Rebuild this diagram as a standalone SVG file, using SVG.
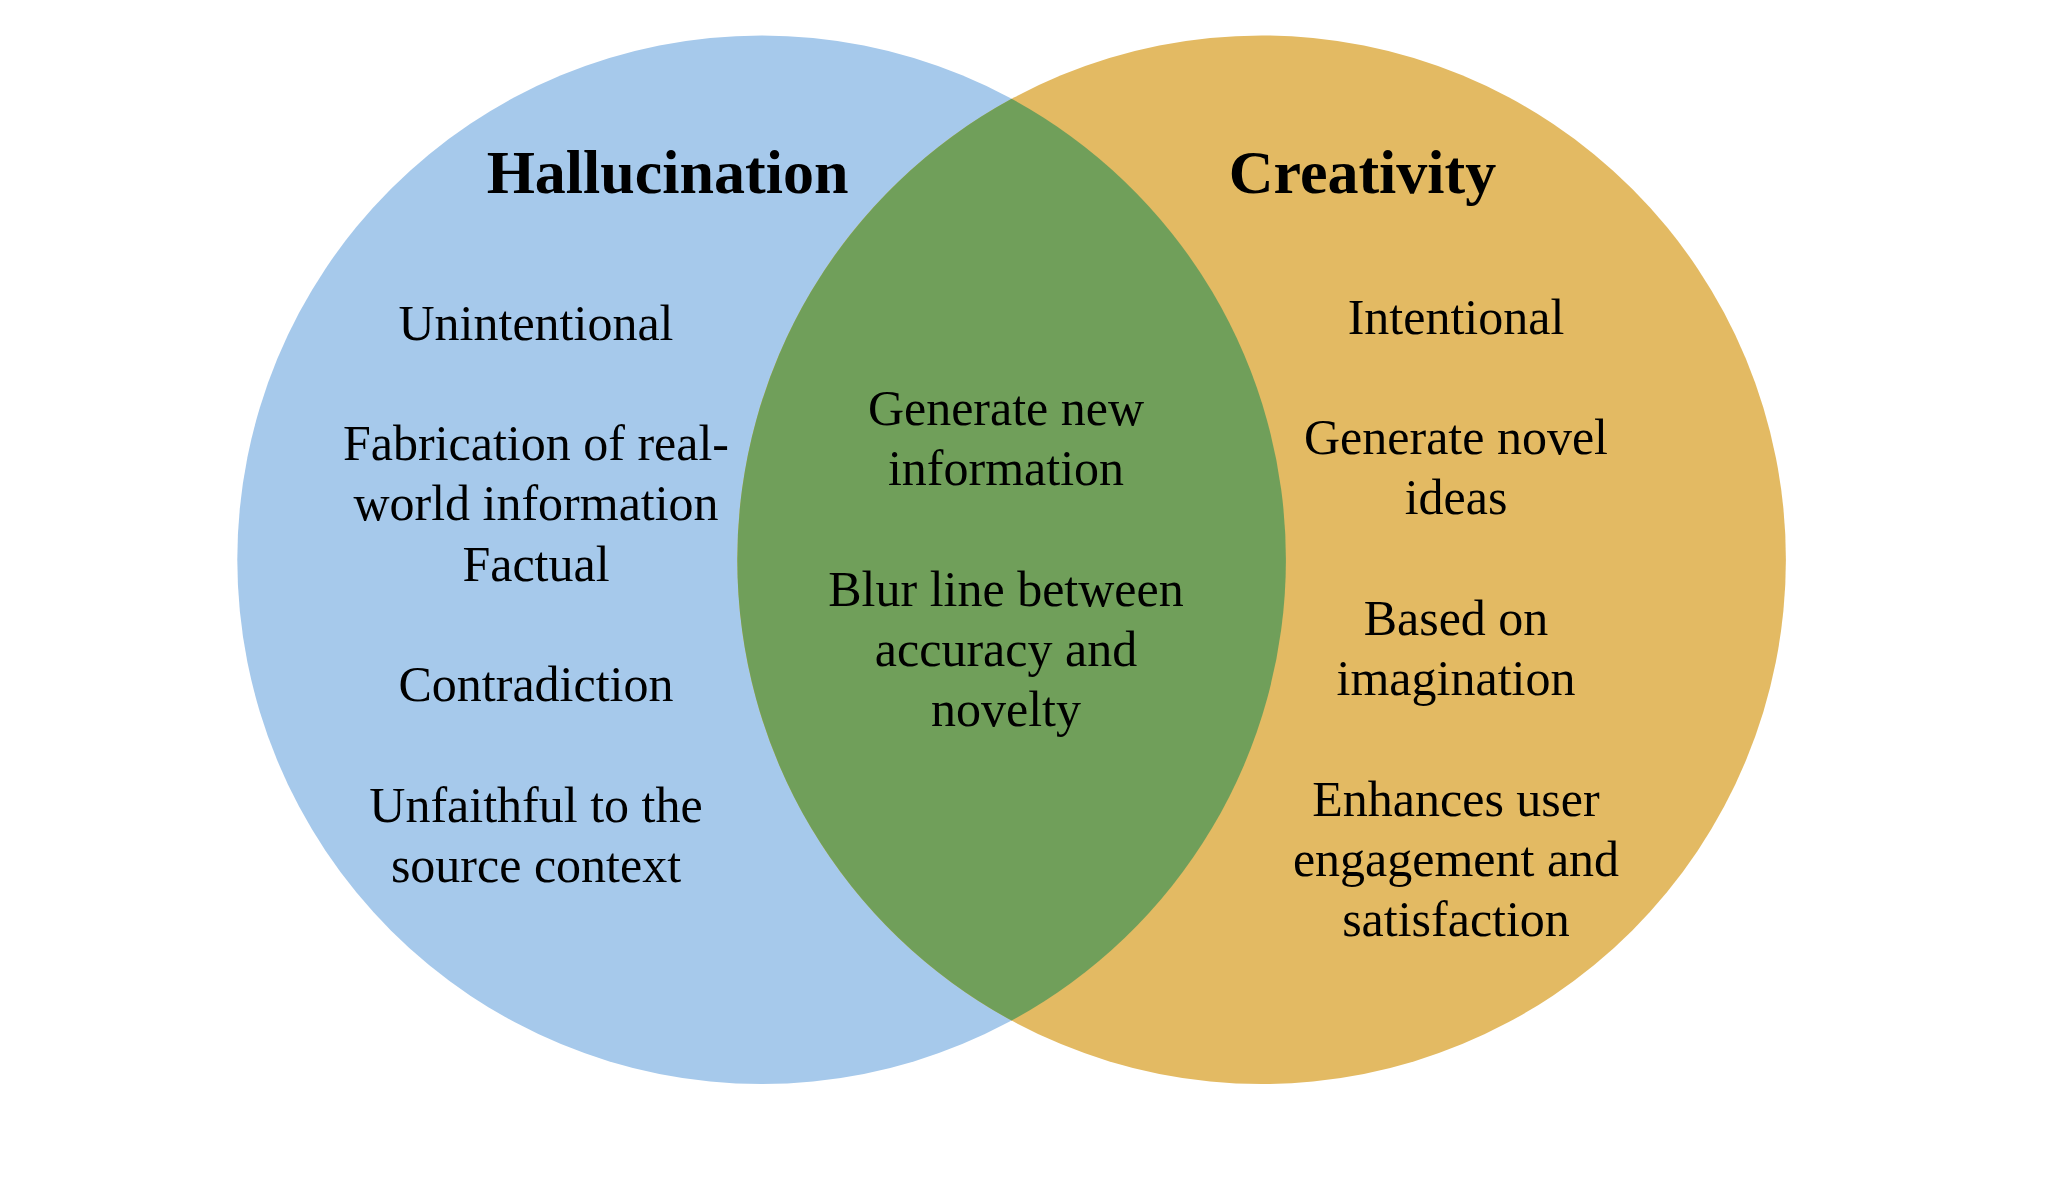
<svg xmlns="http://www.w3.org/2000/svg" width="2056" height="1192" viewBox="0 0 2056 1192">
<style>
.t{font-family:"Liberation Serif","Times New Roman",serif;font-size:50px;fill:#000;text-anchor:middle}
.h{font-family:"Liberation Serif","Times New Roman",serif;font-size:62px;font-weight:bold;fill:#000;text-anchor:middle}
</style>
<rect width="2056" height="1192" fill="#fff"/>
<g id="hallucination">
<circle cx="761.6" cy="559.7" r="524.3" fill="#A6C9EB"/>
</g>
<g id="creativity">
<circle cx="1261.6" cy="559.7" r="524.3" fill="#E3BA63"/>
</g>
<g id="overlap">
<path d="M1011.6,98.84 A524.3,524.3 0 0 1 1011.6,1020.56 A524.3,524.3 0 0 1 1011.6,98.84 Z" fill="#709F5A"/>
</g>
<g id="connectors"></g>
<g id="hallucination-text">
<text class="h" x="667.5" y="193">Hallucination</text>
<text class="t" x="536" y="339.5">Unintentional</text>
<text class="t" x="536" y="460">Fabrication of real-</text>
<text class="t" x="536" y="520.25">world information</text>
<text class="t" x="536" y="580.5">Factual</text>
<text class="t" x="536" y="701">Contradiction</text>
<text class="t" x="536" y="821.5">Unfaithful to the</text>
<text class="t" x="536" y="881.75">source context</text>
</g>
<g id="overlap-text">
<text class="t" x="1006" y="425">Generate new</text>
<text class="t" x="1006" y="485.25">information</text>
<text class="t" x="1006" y="605.75">Blur line between</text>
<text class="t" x="1006" y="666">accuracy and</text>
<text class="t" x="1006" y="726.25">novelty</text>
</g>
<g id="creativity-text">
<text class="h" x="1362.5" y="193">Creativity</text>
<text class="t" x="1456" y="333.5">Intentional</text>
<text class="t" x="1456" y="454">Generate novel</text>
<text class="t" x="1456" y="514.25">ideas</text>
<text class="t" x="1456" y="634.75">Based on</text>
<text class="t" x="1456" y="695">imagination</text>
<text class="t" x="1456" y="815.5">Enhances user</text>
<text class="t" x="1456" y="875.75">engagement and</text>
<text class="t" x="1456" y="936">satisfaction</text>
</g>
</svg>
